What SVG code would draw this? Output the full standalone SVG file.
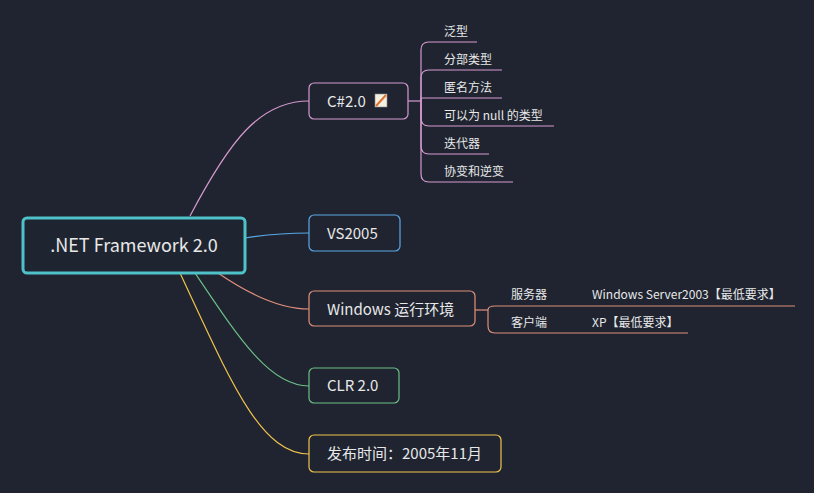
<svg xmlns="http://www.w3.org/2000/svg" width="814" height="493" viewBox="0 0 814 493">
<style>
text{font-family:"Noto Sans CJK SC","Noto Sans",sans-serif;fill:#e8e8e8}
.n{fill:#1f2430;stroke-width:1.2}
.t{font-size:15px}
.s{font-size:12px}
.c{fill:none;stroke-width:1.2}
</style>
<rect width="814" height="493" fill="#1f2430"/>
<g id="connectors">
<path class="c" stroke="#d69ad0" d="M190,216 C230,140 260,101 309,101"/>
<path class="c" stroke="#5aa9e6" d="M245,238 C270,234 290,233 309,233"/>
<path class="c" stroke="#e0907a" d="M218,273 C250,295 280,309 309,309"/>
<path class="c" stroke="#6cbf84" d="M195,273 C240,340 270,386 309,386"/>
<path class="c" stroke="#f0c44c" d="M180,273 C230,380 260,454 309,454"/>
<g stroke="#d69ad0" class="c">
<path d="M408,101 H421"/>
<path d="M421,101 V50 Q421,42 429,42 H477"/>
<path d="M421,101 V78 Q421,70 429,70 H502"/>
<path d="M421,101 V98 Q421,98 429,98 H502"/>
<path d="M421,101 V118 Q421,126 429,126 H554"/>
<path d="M421,101 V146 Q421,154 429,154 H489"/>
<path d="M421,101 V174 Q421,182 429,182 H513"/>
</g>
<g stroke="#e0907a" class="c">
<path d="M475,310 H488"/>
<path d="M488,310 Q488,306 495,306 H795"/>
<path d="M488,310 V326 Q488,333 495,333 H688"/>
</g>
</g>
<g id="root"><rect x="23" y="218" width="222" height="55" rx="4" fill="#1f2530" stroke="#4fc1c9" stroke-width="3"/><text x="134" y="252" text-anchor="middle" style="font-size:18px">.NET Framework 2.0</text></g>
<g id="csharp"><rect class="n" x="309" y="83" width="99" height="36" rx="5" stroke="#d69ad0"/><text class="t" x="327" y="107">C#2.0</text>
<rect x="375" y="94" width="12" height="13" fill="#f4f0e0" stroke="#888" stroke-width="0.6"/><path d="M376,106 L386,95" stroke="#e07030" stroke-width="2"/></g>
<g id="cs-items" class="s">
<text class="s" x="444" y="36">泛型</text>
<text class="s" x="444" y="64">分部类型</text>
<text class="s" x="444" y="92">匿名方法</text>
<text class="s" x="444" y="120">可以为 null 的类型</text>
<text class="s" x="444" y="148">迭代器</text>
<text class="s" x="444" y="176">协变和逆变</text>
</g>
<g id="vs"><rect class="n" x="309" y="215" width="91" height="36" rx="5" stroke="#5aa9e6"/><text class="t" x="327" y="239">VS2005</text></g>
<g id="win"><rect class="n" x="309" y="291" width="166" height="35" rx="5" stroke="#e0907a"/><text class="t" x="327" y="315">Windows 运行环境</text></g>
<g id="win-items">
<text class="s" x="511" y="299">服务器</text><text class="s" x="592" y="299">Windows Server2003【最低要求】</text>
<text class="s" x="511" y="327">客户端</text><text class="s" x="592" y="327">XP【最低要求】</text>
</g>
<g id="clr"><rect class="n" x="309" y="368" width="90" height="35" rx="5" stroke="#6cbf84"/><text class="t" x="327" y="391">CLR 2.0</text></g>
<g id="date"><rect class="n" x="309" y="435" width="192" height="37" rx="5" stroke="#f0c44c"/><text class="t" x="327" y="459">发布时间：2005年11月</text></g>
</svg>
